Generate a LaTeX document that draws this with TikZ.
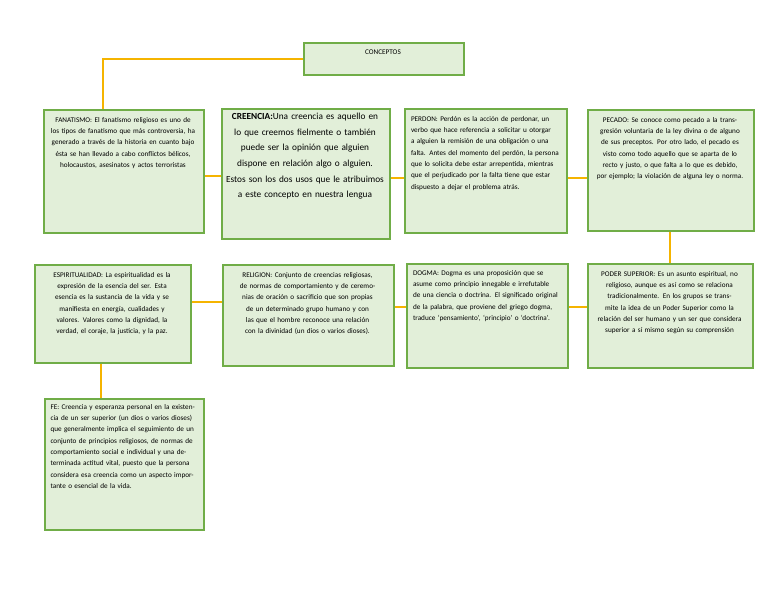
\documentclass[tikz,border=0pt]{standalone}
\usepackage{fontspec}
\setmainfont{Carlito}
\definecolor{bfill}{HTML}{E2EFD9}
\definecolor{bline}{HTML}{70AD47}
\definecolor{conn}{HTML}{F5B400}
\begin{document}
\begin{tikzpicture}[x=1pt,y=-1pt,
 box/.style={draw=bline,line width=2pt,fill=bfill,minimum width=#1,inner sep=0pt},
 txt/.style={anchor=north,inner sep=0pt,font=\fontsize{7.2}{11.3}\selectfont,align=center},
 conn/.style={draw=conn,line width=1.3pt}]
\useasboundingbox (0,0) rectangle (768,594);
\fill[white] (0,0) rectangle (768,594);
\newcommand\mybox[6]{%
 \node[box=#4-#2,minimum height=#5-#3,anchor=north west] (#1) at (#2,#3) {};
 \node[txt,text width=#4-#2-14] (#1t) at ({(#2+#4)/2},#3+8) {#6};}
\mybox{con}{303}{42}{463}{74}{CONCEPTOS}
\mybox{fan}{43}{109}{203}{232}{FANATISMO: El fanatismo religioso es uno de los tipos de fanatismo que más controversia, ha generado a través de la historia en cuanto bajo ésta se han llevado a cabo conflictos bélicos, holocaustos, asesinatos y actos terroristas}
\node[box=168,minimum height=130,anchor=north west] (cre) at (221,108) {};
\node[txt,text width=160,font=\fontsize{9.3}{15.6}\selectfont] (cret) at (305,113) {\textbf{CREENCIA:}Una creencia es aquello en lo que creemos fielmente o también puede ser la opinión que alguien dispone en relación algo o alguien. Estos son los dos usos que le atribuimos a este concepto en nuestra lengua};
\node[box=162,minimum height=124,anchor=north west] (per) at (404,108) {};
\node[txt,text width=148,align=left] (pert) at (485,116) {PERDON: Perdón es la acción de perdonar, un verbo que hace referencia a solicitar u otorgar a alguien la remisión de una obligación o una falta. Antes del momento del perdón, la persona que lo solicita debe estar arrepentida, mientras que el perjudicado por la falta tiene que estar dispuesto a dejar el problema atrás.};
\mybox{pec}{587}{109}{753}{230}{PECADO: Se conoce como pecado a la transgresión voluntaria de la ley divina o de alguno de sus preceptos. Por otro lado, el pecado es visto como todo aquello que se aparta de lo recto y justo, o que falta a lo que es debido, por ejemplo; la violación de alguna ley o norma.}
\mybox{esp}{34}{264}{190}{362}{ESPIRITUALIDAD: La espiritualidad es la expresión de la esencia del ser. Esta esencia es la sustancia de la vida y se manifiesta en energía, cualidades y valores. Valores como la dignidad, la verdad, el coraje, la justicia, y la paz.}
\mybox{rel}{222}{264}{393}{365}{RELIGION: Conjunto de creencias religiosas, de normas de comportamiento y de ceremonias de oración o sacrificio que son propias de un determinado grupo humano y con las que el hombre reconoce una relación con la divinidad (un dios o varios dioses).}
\node[box=161,minimum height=104,anchor=north west] (dog) at (406,263) {};
\node[txt,text width=147,align=left] (dogt) at (486.5,270) {DOGMA: Dogma es una proposición que se asume como principio innegable e irrefutable de una ciencia o doctrina. El significado original de la palabra, que proviene del griego dogma, traduce ‘pensamiento’, ‘principio’ o ‘doctrina’.};
\mybox{pod}{587}{263}{752}{367}{PODER SUPERIOR: Es un asunto espiritual, no religioso, aunque es así como se relaciona tradicionalmente. En los grupos se transmite la idea de un Poder Superior como la relación del ser humano y un ser que considera superior a sí mismo según su comprensión}
\node[box=159,minimum height=131,anchor=north west] (fe) at (44,398) {};
\node[txt,text width=146,align=left] (fet) at (123.5,404) {FE: Creencia y esperanza personal en la existencia de un ser superior (un dios o varios dioses) que generalmente implica el seguimiento de un conjunto de principios religiosos, de normas de comportamiento social e individual y una determinada actitud vital, puesto que la persona considera esa creencia como un aspecto importante o esencial de la vida.};
\draw[conn] (con.west) -| (fan.north -| 103,0);
\draw[conn] (fan.east |- 0,176) -- (cre.west |- 0,176);
\draw[conn] (cre.east |- 0,178) -- (per.west |- 0,178);
\draw[conn] (per.east |- 0,178) -- (pec.west |- 0,178);
\draw[conn] (pec.south -| 670,0) -- (pod.north -| 670,0);
\draw[conn] (pod.west |- 0,307) -- (dog.east |- 0,307);
\draw[conn] (dog.west |- 0,307) -- (rel.east |- 0,307);
\draw[conn] (rel.west |- 0,302) -- (esp.east |- 0,302);
\draw[conn] (esp.south -| 101,0) -- (fe.north -| 101,0);
\end{tikzpicture}
\end{document}
